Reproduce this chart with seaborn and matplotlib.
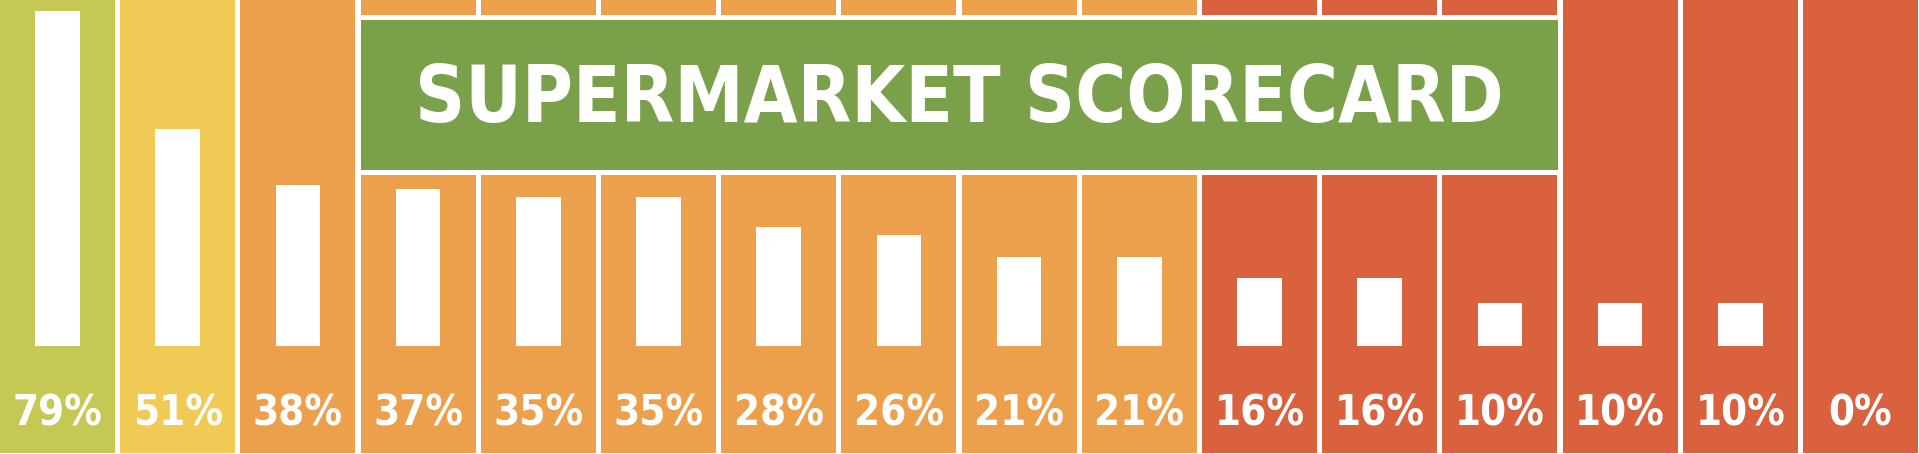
import numpy as np
import pandas as pd
import matplotlib
matplotlib.use("Agg")
import matplotlib.pyplot as plt
import seaborn as sns
from matplotlib import font_manager as fm
from matplotlib.patches import Rectangle

# scorecard values (percent), one per supermarket, left to right
scores = [79, 51, 38, 37, 35, 35, 28, 26, 21, 21, 16, 16, 10, 10, 10, 0]
score_labels = [f"{v}%" for v in scores]
# colour band for each panel
bands = ["lime", "yellow"] + ["orange"] * 8 + ["red"] * 6
band_colors = {"lime": "#c5c855", "yellow": "#f0ca55",
               "orange": "#eda04b", "red": "#da613e"}
title = "SUPERMARKET SCORECARD"

df = pd.DataFrame({"pos": np.arange(len(scores)), "score": scores,
                   "label": score_labels, "band": bands})

sns.set_style("white")


def weight_num(w):
    if isinstance(w, str):
        return fm.weight_dict.get(w, 400)
    return int(w)


# pick a narrow bold face if one is installed, else Roboto bold
font_path = None
cands = [f for f in fm.fontManager.ttflist
         if ("Narrow" in f.name or "Condensed" in f.name
             or str(f.stretch) in ("condensed", "semi-condensed"))
         and f.style == "normal" and weight_num(f.weight) >= 600]
cands.sort(key=lambda f: abs(weight_num(f.weight) - 700))
if cands:
    font_path = cands[0].fname
if font_path:
    fprop = fm.FontProperties(fname=font_path)
else:
    fprop = fm.FontProperties(family="Roboto", weight="bold")

fig = plt.figure(figsize=(19.19, 4.54), dpi=100)
fig.patch.set_facecolor("white")
ax = fig.add_axes([0, 0, 1, 1])

# pixel layout: panel pitch 120.2px, 4.24px per percent, bar base 108px up
ymin, ymax = -25.54, 81.53
ax.set_xlim(-0.478, 15.487)
ax.set_ylim(ymin, ymax)


def py(px_top):
    # pixel row (from top) -> data y
    return (454 - px_top - 108.3) / 4.24


# coloured background panels
ax.bar(df["pos"], ymax - py(452.7) + 2, bottom=py(452.7), width=115 / 120.2,
       color=[band_colors[b] for b in df["band"]], linewidth=0, zorder=0)

# white score bars
sns.barplot(data=df, x="pos", y="score", color="white", saturation=1,
            width=44.7 / 120.2, ax=ax, zorder=2, linewidth=0,
            order=list(df["pos"]))

renderer = fig.canvas.get_renderer()


def fit_size(txt, target_w, max_pt):
    # shrink text so it is no wider than target_w pixels
    w = txt.get_window_extent(renderer).width
    size = txt.get_fontsize()
    return min(max_pt, size * target_w / w)


labels = []
for p, lab in zip(df["pos"], df["label"]):
    labels.append(ax.text(p, py(431), lab, color="white", ha="center",
                          va="baseline", fontproperties=fprop, fontsize=40,
                          zorder=3))
lab_size = fit_size(labels[0], 90, 40)
lab_cap = 0.73 * lab_size * 100 / 72
for t in labels:
    t.set_fontsize(lab_size)
    t.set_y(py(410.5 + lab_cap / 2))

# title box over the middle panels
ax.add_patch(Rectangle((2.5, py(172)), 10.0, py(17.5) - py(172),
                       facecolor="#7aa04a", edgecolor="white",
                       linewidth=3.6, zorder=4))
ttl = ax.text(7.5, py(137), title, color="white", ha="center", va="baseline",
              fontproperties=fprop, fontsize=86, zorder=5)
ttl_size = fit_size(ttl, 1090, 86)
ttl.set_fontsize(ttl_size)
ttl.set_y(py(93.5 + 0.73 * ttl_size * 100 / 72 / 2))

ax.set_xlim(-0.478, 15.487)
ax.set_ylim(ymin, ymax)
ax.axis("off")

fig.savefig("out.png", dpi=100, facecolor="white")
